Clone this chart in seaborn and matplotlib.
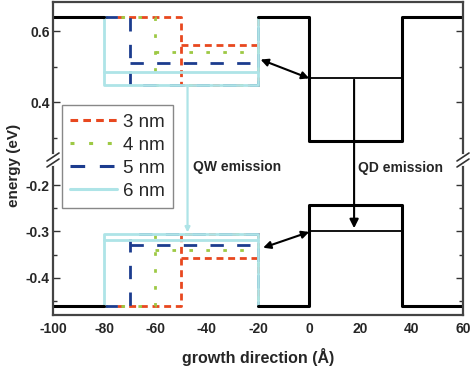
import pandas as pd
import matplotlib.pyplot as plt
import seaborn as sns
from matplotlib.lines import Line2D
from matplotlib.patches import ConnectionPatch

sns.set_theme(style="ticks")
plt.rcParams['font.family'] = ['Liberation Sans', 'DejaVu Sans']
plt.rcParams['axes.unicode_minus'] = False

# ---- data ----
widths = ['3 nm', '4 nm', '5 nm', '6 nm']
well_left = [-50, -60, -70, -80]        # left edge of each QW (Å)
line_start = [-75, -80, -80, -80]       # where each coloured curve starts
well_right = -20
cb_barrier, cb_well = 0.64, 0.447
cb_levels = [0.56, 0.54, 0.51, 0.485]
vb_barrier, vb_well = -0.46, -0.305
vb_levels = [-0.358, -0.34, -0.33, -0.318]

qd_left, qd_right = 0, 36
qd_cb_bottom, qd_cb_level = 0.29, 0.467
qd_vb_top, qd_vb_level = -0.243, -0.298
x_min, x_max = -100, 60
x_ticks = [-100, -80, -60, -40, -20, 0, 20, 40, 60]

colors = ['#E8481F', '#9DC944', '#1C3C8E', '#AEE4E7']
dash_list = [(2.5, 1.7), (1.3, 4.8), (4.8, 4.8), '']


def qw_frame(barrier, well, levels):
    rows = []
    for w, x0, xs, lev in zip(widths, well_left, line_start, levels):
        px = [xs, x0, x0, well_right, well_right]
        py = [barrier, barrier, well, well, barrier]
        for x, y in zip(px, py):
            rows.append(dict(width=w, seg=w + 'p', x=x, y=y))
        for x in (x0, well_right):
            rows.append(dict(width=w, seg=w + 'l', x=x, y=lev))
    return pd.DataFrame(rows)


def qd_frame(barrier, edge):
    px = [x_min, -80, None, well_right, qd_left, qd_left, qd_right, qd_right, x_max]
    py = [barrier, barrier, None, barrier, barrier, edge, edge, barrier, barrier]
    rows, seg = [], 0
    for x, y in zip(px, py):
        if x is None:
            seg += 1
            continue
        rows.append(dict(seg=seg, x=x, y=y))
    return pd.DataFrame(rows)


fig = plt.figure(figsize=(4.74, 3.66), dpi=100)
ax1 = fig.add_axes([0.1118, 0.5628, 0.865, 0.4317])
ax2 = fig.add_axes([0.1118, 0.1393, 0.865, 0.4235])

panels = [(ax1, cb_barrier, cb_well, cb_levels, qd_cb_bottom, qd_cb_level),
          (ax2, vb_barrier, vb_well, vb_levels, qd_vb_top, qd_vb_level)]
for ax, bar, well, levs, qd_edge, qd_lev in panels:
    sns.lineplot(data=qw_frame(bar, well, levs), x='x', y='y', hue='width', style='width',
                 hue_order=widths, style_order=widths, units='seg', estimator=None,
                 sort=False, palette=colors, dashes=dict(zip(widths, dash_list)),
                 linewidth=2, legend=False, ax=ax)
    sns.lineplot(data=qd_frame(bar, qd_edge), x='x', y='y', units='seg', estimator=None,
                 sort=False, color='black', linewidth=2.2, ax=ax)
    lev_df = pd.DataFrame(dict(x=[qd_left, qd_right], y=[qd_lev, qd_lev]))
    sns.lineplot(data=lev_df, x='x', y='y', estimator=None, sort=False,
                 color='black', linewidth=1.3, ax=ax)
    ax.set_xlim(x_min, x_max)
    ax.set_xlabel('')
    ax.set_ylabel('')
    for s in ax.spines.values():
        s.set_color('#444444')
        s.set_linewidth(1.6)
    ax.tick_params(axis='y', which='both', direction='in', left=True, right=True,
                   color='#333333', width=1.0, pad=2.5)
    ax.tick_params(axis='y', which='major', length=5)
    ax.tick_params(axis='y', which='minor', length=3)
    ax.tick_params(axis='x', length=0)

ax1.set_ylim(0.237, 0.682)
ax1.set_yticks([0.4, 0.6])
ax1.set_yticks([0.3, 0.5], minor=True)
ax1.set_yticklabels(['0.4', '0.6'], fontsize=10, fontweight='bold')
ax1.tick_params(axis='x', labelbottom=False)
ax1.spines['bottom'].set_visible(False)

ax2.set_ylim(-0.48, -0.146)
ax2.set_yticks([-0.4, -0.3, -0.2])
ax2.set_yticks([-0.45, -0.35, -0.25], minor=True)
ax2.set_yticklabels(['-0.4', '-0.3', '-0.2'], fontsize=10, fontweight='bold')
ax2.set_xticks(x_ticks)
ax2.set_xticklabels([str(t) for t in x_ticks], fontsize=10, fontweight='bold')
ax2.tick_params(axis='x', pad=5)
ax2.spines['top'].set_visible(False)
ax2.patch.set_visible(False)

# double arrows between QW and QD levels
arr = dict(arrowstyle='<|-|>', color='black', lw=1.5, mutation_scale=11, shrinkA=0, shrinkB=0)
ax1.annotate('', xy=(qd_left, qd_cb_level), xytext=(-19, 0.52), arrowprops=arr)
ax2.annotate('', xy=(qd_left, qd_vb_level - 0.003), xytext=(-18, -0.335), arrowprops=arr)

# emission arrows spanning the axis break
qd_em = ConnectionPatch(xyA=(17.5, qd_cb_level - 0.004), coordsA=ax1.transData,
                        xyB=(17.5, qd_vb_level + 0.005), coordsB=ax2.transData,
                        arrowstyle='-|>', color='black', lw=1.5, mutation_scale=13,
                        shrinkA=0, shrinkB=0)
fig.add_artist(qd_em)
qw_em = ConnectionPatch(xyA=(-47.5, cb_well), coordsA=ax1.transData,
                        xyB=(-47.5, vb_well + 0.003), coordsB=ax2.transData,
                        arrowstyle='-|>', color=colors[3], lw=1.6, mutation_scale=7,
                        shrinkA=0, shrinkB=0)
fig.add_artist(qw_em)

fig.text(193 / 474, 1 - 167 / 366, 'QW emission', fontsize=10, fontweight='bold', va='center')
fig.text(358 / 474, 1 - 168 / 366, 'QD emission', fontsize=10, fontweight='bold', va='center')
fig.text(14 / 474, 1 - 165 / 366, 'energy (eV)', fontsize=11, fontweight='bold',
         rotation=90, ha='center', va='center')
fig.text(258 / 474, 1 - 357 / 366, 'growth direction (Å)', fontsize=11.5,
         fontweight='bold', ha='center', va='center')

# axis break marks
for xpx in (53, 463):
    fig.add_artist(Line2D([xpx / 474] * 2, [1 - 164 / 366, 1 - 156 / 366],
                          color='white', lw=3, transform=fig.transFigure))
    for dy in (-3, 3):
        fig.add_artist(Line2D([(xpx - 6) / 474, (xpx + 6) / 474],
                              [1 - (160 + dy + 4) / 366, 1 - (160 + dy - 4) / 366],
                              color='#333333', lw=1.2, transform=fig.transFigure))

handles = [Line2D([], [], color=c, lw=2.2, dashes=d) if d else
           Line2D([], [], color=c, lw=2.2) for c, d in zip(colors, dash_list)]
fig.legend(handles, widths, loc='upper left', bbox_to_anchor=(62 / 474, 1 - 105 / 366),
           frameon=True, fancybox=False, edgecolor='#888888', framealpha=1,
           fontsize=13.5, handlelength=2.5, handletextpad=0.3, labelspacing=0.32,
           borderpad=0.45, borderaxespad=0)

plt.savefig('out.png', dpi=100)
